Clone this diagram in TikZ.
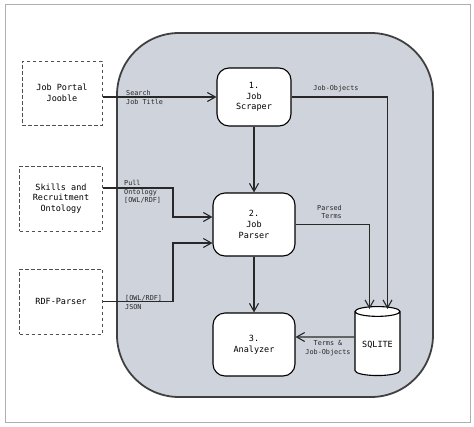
\documentclass[tikz,border=0pt]{standalone}
\usepackage{fontspec}
\setmonofont{DejaVu Sans Mono}
\usetikzlibrary{shapes.geometric, arrows.meta, positioning, calc}

\definecolor{panelgray}{RGB}{207,212,220}
\definecolor{framegray}{RGB}{175,175,175}
\definecolor{linegray}{RGB}{40,40,40}
\definecolor{dashgray}{RGB}{80,80,80}

\begin{document}
\begin{tikzpicture}[x=1pt, y=-1pt]

        % Define styles for each type of node
        \tikzstyle{panel} = [rectangle, rounded corners=62pt, draw=dashgray!80!black, line width=1.8pt, fill=panelgray, minimum width=316pt, minimum height=364pt]
        \tikzstyle{source} = [rectangle, minimum width=83pt, minimum height=65pt, inner sep=1pt, align=center, draw=dashgray, line width=1pt, dash pattern=on 3.5pt off 2.5pt, font=\ttfamily\fontsize{8.5}{10.5}\selectfont]
        \tikzstyle{process} = [rectangle, rounded corners=12pt, minimum width=82pt, minimum height=63pt, inner sep=1pt, align=center, draw=black, line width=1.1pt, fill=white, font=\ttfamily\fontsize{8.5}{10.7}\selectfont]
        \tikzstyle{store} = [cylinder, shape border rotate=90, aspect=0.3, minimum width=45pt, minimum height=69pt, inner sep=1pt, draw=black, line width=1.1pt, fill=white, font=\ttfamily\fontsize{8.5}{10.5}\selectfont]
        \tikzstyle{tag} = [inner sep=0pt, text=linegray, font=\ttfamily\fontsize{6.8}{8.6}\selectfont]

        % Define arrow style
        \tikzstyle{arrow} = [draw=linegray, line width=1.1pt, -{Straight Barb[length=8pt,width=9pt]}]

        \useasboundingbox (0,0) rectangle (474,426);
        \draw [framegray, line width=0.8pt] (5,4) rectangle (470,422);

        % Nodes
        \node (system) [panel] at (275,215) {};

        \node (portal) [source, minimum width=80pt, minimum height=64pt] at (62,93) {Job Portal\\Jooble};
        \node (skills) [source] at (61,198.5) {Skills and\\Recruitment\\Ontology};
        \node (rdf) [source] at (61,301.5) {RDF-Parser};

        \node (scraper) [process, minimum width=74pt, minimum height=58pt] at (254,97) {1.\\Job\\Scraper};
        \node (parser) [process] at (254,224.5) {2.\\Job\\Parser};
        \node (analyzer) [process] at (254,344.5) {3.\\Analyzer};
        \node (db) [store] at (377.5,344.5) {SQLITE};

        % Labels on the flows
        \node (searchtag) [tag, anchor=west, align=left] at (126,97.5) {Search\\Job Title};
        \node (objtag) [tag] at (336,89) {Job-Objects};
        \node (pulltag) [tag, anchor=west, align=left] at (124,192) {Pull\\Ontology\\{}[OWL/RDF]};
        \node (jsontag) [tag, anchor=west, align=left] at (125,302.5) {{}[OWL/RDF]\\JSON};
        \node (parsedtag) [tag, anchor=east, align=right] at (342,212) {Parsed\\Terms};
        \node (termstag) [tag, align=center] at (328,348) {Terms \&\\Job-Objects};

        % Arrows
        \draw [arrow] (portal.east |- scraper.west) -- (scraper.west);
        \draw [arrow] (scraper) -- (parser);
        \draw [arrow] (scraper.east) -| ([xshift=10pt,yshift=-3pt]db.north);
        \draw [arrow] ([yshift=10.5pt]skills.east) -- ++(70,0) |- ([yshift=7.5pt]parser.west);
        \draw [arrow] (rdf.east) -- ++(70,0) |- ([yshift=-18.5pt]parser.west);
        \draw [arrow] (parser.east) -| ([xshift=-8pt,yshift=-3pt]db.north);
        \draw [arrow] (parser) -- (analyzer);
        \draw [arrow] ([yshift=7.5pt]db.west) -- ([yshift=7.5pt]analyzer.east);

\end{tikzpicture}
\end{document}
